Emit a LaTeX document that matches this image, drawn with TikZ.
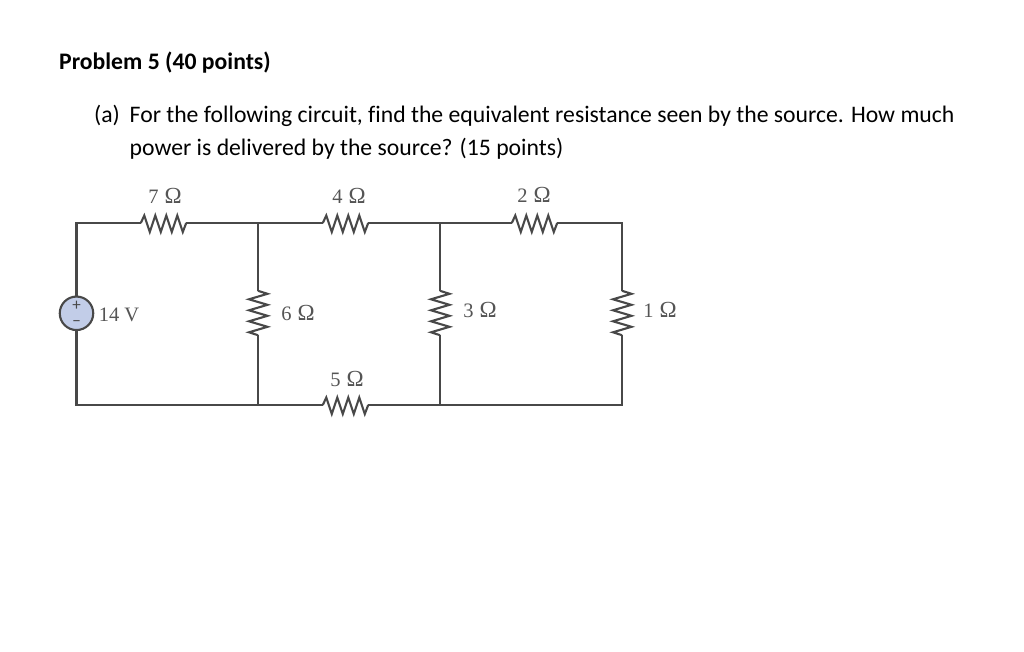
\documentclass[tikz,border=0pt]{standalone}
\usepackage{fontspec}
\setmainfont{Carlito}[Ligatures=CommonOff]
\newfontfamily\labelfont{Liberation Serif}
\definecolor{wirec}{HTML}{484848}
\definecolor{labelc}{HTML}{555555}
\definecolor{srcfill}{HTML}{C2CDE8}
\tikzset{
  wire/.style={draw=wirec,line width=2.1pt,line join=miter},
  res/.style={inner sep=0pt,minimum width=45pt,minimum height=18pt},
  vres/.style={inner sep=0pt,minimum width=18pt,minimum height=44pt},
  clabel/.style={font=\labelfont\fontsize{20.5}{22}\selectfont,text=labelc,inner sep=0pt},
  prose/.style={font=\fontsize{23.7}{27}\selectfont,text=black,inner sep=0pt,anchor=base west},
  polarity/.style={inner sep=0pt,font=\fontsize{17}{17}\selectfont,text=wirec}
}
\newcommand{\ohm}[1]{#1\hspace{0.3em}{\fontsize{23}{22}\selectfont Ω}}
\newcommand{\zigH}[1]{\draw[wire] (#1.west) -- ++(3.5,-7.5) -- ++(5.5,16.5) -- ++(5.5,-16.5) -- ++(5.5,16.5) -- ++(5.5,-16.5) -- ++(5.5,16.5) -- ++(5.5,-16.5) -- ++(5.5,16.5) -- (#1.east);}
\newcommand{\zigV}[1]{\draw[wire] (#1.north) -- ++(9.5,3) -- ++(-18.5,5.5) -- ++(18.5,5.5) -- ++(-18.5,5.5) -- ++(18.5,5.5) -- ++(-18.5,5.5) -- ++(18.5,5.5) -- ++(-18.5,5.5) -- (#1.south);}
\begin{document}
\begin{tikzpicture}[x=1pt,y=-1pt]
\useasboundingbox[fill=white] (0,0) rectangle (1024,652);
\node[prose,font=\bfseries\fontsize{23.7}{27}\selectfont] (title) at (59,70) {Problem 5 (40 points)};
\node[prose] (parta) at (94,122.5) {(a)};
\node[prose] (line1) at (129.5,122.5) {For the following circuit, find the equivalent resistance seen by the source. How much};
\node[prose] (line2) at (129.5,155.5) {power is delivered by the source? (15 points)};
\coordinate (tl) at (76.5,223);
\coordinate (bl) at (76.5,405);
\coordinate (t2) at (258,223);
\coordinate (b2) at (258,405);
\coordinate (t3) at (440,223);
\coordinate (b3) at (440,405);
\coordinate (tr) at (622,223);
\coordinate (br) at (622,405);
\node[res] (R7) at (163.5,223) {};
\node[res] (R4) at (345.5,223) {};
\node[res] (R2) at (534.5,223) {};
\node[res] (R5) at (345.5,405) {};
\node[vres] (R6) at (258,313) {};
\node[vres] (R3) at (440,313) {};
\node[vres] (R1) at (622,313) {};
\node[circle,draw=wirec,line width=2.1pt,fill=srcfill,minimum size=33.5pt,inner sep=0pt] (V) at (76.5,313.3) {};
\node[polarity] (plus) at (76.5,305.5) {+};
\node[polarity] (minus) at (76.5,324) {\textminus};
\draw[wire] (V.north) -- (tl) -- (R7.west);
\draw[wire] (R7.east) -- (t2) -- (R4.west);
\draw[wire] (R4.east) -- (t3) -- (R2.west);
\draw[wire] (R2.east) -- (tr) -- (R1.north);
\draw[wire] (R1.south) -- (br) -- (b3) -- (R5.east);
\draw[wire] (R5.west) -- (b2) -- (bl) -- (V.south);
\draw[wire] (t2) -- (R6.north);
\draw[wire] (R6.south) -- (b2);
\draw[wire] (t3) -- (R3.north);
\draw[wire] (R3.south) -- (b3);
\zigH{R7}\zigH{R4}\zigH{R2}\zigH{R5}
\zigV{R6}\zigV{R3}\zigV{R1}
\node[clabel] (l7) at (165,196) {\ohm{7}};
\node[clabel] (l4) at (349,196) {\ohm{4}};
\node[clabel] (l2) at (534,195) {\ohm{2}};
\node[clabel] (l5) at (347,379) {\ohm{5}};
\node[clabel] (l6) at (298,313) {\ohm{6}};
\node[clabel] (l3) at (480,309.5) {\ohm{3}};
\node[clabel] (l1) at (660,310) {\ohm{1}};
\node[clabel] (lv) at (119,315) {14 V};
\end{tikzpicture}
\end{document}
